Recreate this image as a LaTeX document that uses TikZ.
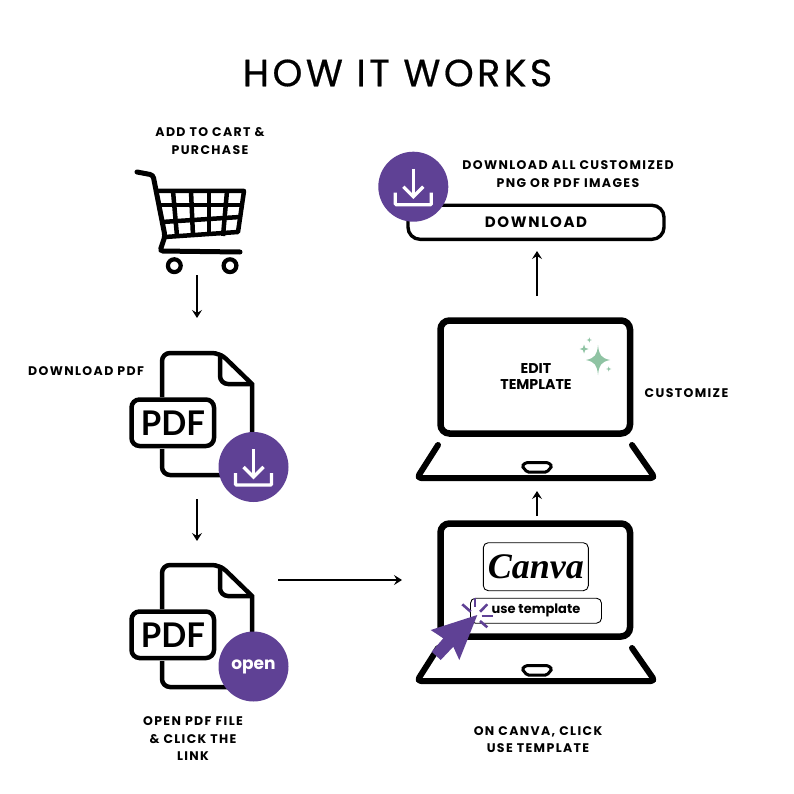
\documentclass[tikz,border=0pt]{standalone}
\usepackage{fontspec}
\usetikzlibrary{arrows.meta}
\setmainfont{Poppins}
\newfontfamily\pdffont{Lato}
\newfontfamily\titlefont[LetterSpace=9,FakeBold=0.5]{Poppins}
\newfontfamily\labelfont[LetterSpace=11]{Poppins}
\newfontfamily\canvafont{Liberation Serif}
\definecolor{plum}{HTML}{5F4195}
\definecolor{mint}{HTML}{8FC3A3}

\begin{document}
\begin{tikzpicture}[
    x=1pt, y=-1pt,
    label/.style={align=center, inner sep=0pt, font=\labelfont\bfseries\fontsize{12.5}{17.5}\selectfont},
    badge/.style={circle, fill=plum, minimum size=70pt, inner sep=0pt, text=white, font=\bfseries\fontsize{17}{20}\selectfont},
    iconline/.style={draw=white, line width=3.2pt},
    arrow/.style={line width=1.8pt, -{Stealth[length=8pt, width=10pt, inset=3pt]}},
    thinbox/.style={draw=black, line width=0.9pt, rounded corners=5pt},
    sparkle/.style={fill=mint},
    laptop/.pic={
        \draw[line width=6.5pt, rounded corners=9pt] (0,0) rectangle (189.5,113);
        \draw[line width=6pt, line cap=round, line join=round, rounded corners=4pt] (-2.5,124.5) -- (-23.5,157.5) -- (214.5,157.5) -- (191.5,124.5);
        \draw[line width=3pt, rounded corners=1.5pt] (85.5,142) -- (107.5,142) -- (111.5,145.5) -- (106.5,151.5) -- (86.5,151.5) -- (81.5,145.5) -- cycle;
    },
    pdfdoc/.pic={
        \draw[line width=4.5pt, rounded corners=8pt] (0,44) -- (0,0) -- (58,0) [sharp corners] -- (90,31) [rounded corners=8pt] -- (90,122) -- (0,122) -- (0,96);
        \draw[line width=4.5pt, rounded corners=8pt] (58,0) -- (58,31) -- (90,31);
        \draw[line width=4.5pt, rounded corners=8pt] (-30.5,46.5) rectangle (52,93);
        \node[inner sep=0pt, font=\pdffont\bfseries\fontsize{34}{34}\selectfont] at (11,70) {\scalebox{0.97}[1]{PDF}};
    },
    saveicon/.pic={
        \draw[iconline] (0,-18) -- (0,10);
        \draw[iconline] (-10,0) -- (0,10) -- (10,0);
        \draw[iconline, rounded corners=1pt] (-18,6) -- (-18,18) -- (18,18) -- (18,6);
    }
]
\useasboundingbox (0,0) rectangle (794,794);

% Title
\node (title) [inner sep=0pt, font=\titlefont\fontsize{38}{40}\selectfont] at (397.5,73) {HOW IT WORKS};

% Cart
\node (cartlabel) [label] at (210,141) {ADD TO CART \&\\PURCHASE};
\draw[line width=5pt, line cap=round, rounded corners=3pt] (137,172) -- (153,175) -- (165,236) -- (160,251) -- (240,252);
\draw[line width=4.5pt, line join=round] (158,191) -- (244,191) -- (238,232) -- (165,237);
\draw[line width=4.5pt] (160,205) -- (243,205);
\draw[line width=4.5pt] (162,222) -- (240,217);
\foreach \topx/\botx in {173/177, 191/193, 209/209, 227/223} {
    \draw[line width=4.5pt] (\topx,191) -- (\botx,236);
}
\draw[line width=4.2pt] (174.3,265.7) circle (6.4);
\draw[line width=4.2pt] (230,265.7) circle (6.4);

% PDF files
\node (savelabel) [label] at (86,371) {DOWNLOAD PDF};
\pic at (162,353) {pdfdoc};
\node (savebadge) [badge] at (253.5,467) {};
\pic at (253.5,467) {saveicon};

\pic at (162,565) {pdfdoc};
\node (openbadge) [badge] at (253.5,666.5) {open};
\node (openlabel) [label] at (193,739) {OPEN PDF FILE\\\& CLICK THE\\LINK};

% Lower laptop
\pic at (440.5,523.5) {laptop};
\node (canvabox) [thinbox, minimum width=105pt, minimum height=48pt, inner sep=0pt, font=\canvafont\itshape\bfseries\fontsize{36}{36}\selectfont] at (535.8,566.7) {Canva};
\node (templatebox) [thinbox, minimum width=131pt, minimum height=25pt, inner sep=0pt, font=\bfseries\fontsize{13}{15}\selectfont] at (536,610.7) {use template};
\fill[plum] (477.3,615) -- (430.7,630) -- (443.3,638.3) -- (431.7,651.7) -- (440.7,660) -- (453.3,646.7) -- (459.3,660) -- cycle;
\foreach \xa/\ya/\xb/\yb in {475/598.3/475/606.7, 462.3/604.3/470.7/611.7, 487.3/604.3/480/611.7, 481.7/616/492.7/616, 480/621/487.3/627.3} {
    \draw[plum, line width=2.6pt] (\xa,\ya) -- (\xb,\yb);
}
\node (canvalabel) [label] at (538,739.5) {ON CANVA, CLICK\\USE TEMPLATE};

% Upper laptop
\pic at (440.5,320.5) {laptop};
\node (editlabel) [align=center, inner sep=0pt, font=\fontsize{14.2}{16.7}\selectfont\bfseries] at (536,376.5) {EDIT\\TEMPLATE};
\node (customlabel) [label] at (686.5,393) {CUSTOMIZE};
\fill[sparkle] (598,345) .. controls (599,355) and (601,358) .. (610,360) .. controls (601,362) and (599,365) .. (598,375) .. controls (597,365) and (595,362) .. (586,360) .. controls (595,358) and (597,355) .. (598,345) -- cycle;
\foreach \cx/\cy/\r in {584/349/4.5, 589.3/340/2.6, 608.7/369/2.6} {
    \fill[sparkle] (\cx,\cy-\r) -- (\cx+0.25*\r,\cy-0.25*\r) -- (\cx+\r,\cy) -- (\cx+0.25*\r,\cy+0.25*\r) -- (\cx,\cy+\r) -- (\cx-0.25*\r,\cy+0.25*\r) -- (\cx-\r,\cy) -- (\cx-0.25*\r,\cy-0.25*\r) -- cycle;
}

% Download button
\node (imageslabel) [label] at (568,174) {DOWNLOAD ALL CUSTOMIZED\\PNG OR PDF IMAGES};
\node (savebutton) [draw=black, line width=3.4pt, rounded corners=12pt, minimum width=256pt, minimum height=34pt, inner sep=0pt, font=\labelfont\bfseries\fontsize{15}{17}\selectfont] at (536,222.3) {DOWNLOAD};
\node (topbadge) [badge] at (413.3,186.7) {};
\pic at (413.3,186.7) {saveicon};

% Arrows
\coordinate (a1) at (197,275);
\coordinate (a2) at (197,318);
\coordinate (b1) at (197,499);
\coordinate (b2) at (197,541);
\coordinate (c1) at (278,580);
\coordinate (c2) at (402,580);
\coordinate (d1) at (537,516);
\coordinate (d2) at (537,491);
\coordinate (e1) at (537,296);
\coordinate (e2) at (537,251);
\draw [arrow] (a1) -- (a2);
\draw [arrow] (b1) -- (b2);
\draw [arrow] (c1) -- (c2);
\draw [arrow] (d1) -- (d2);
\draw [arrow] (e1) -- (e2);

\end{tikzpicture}
\end{document}
